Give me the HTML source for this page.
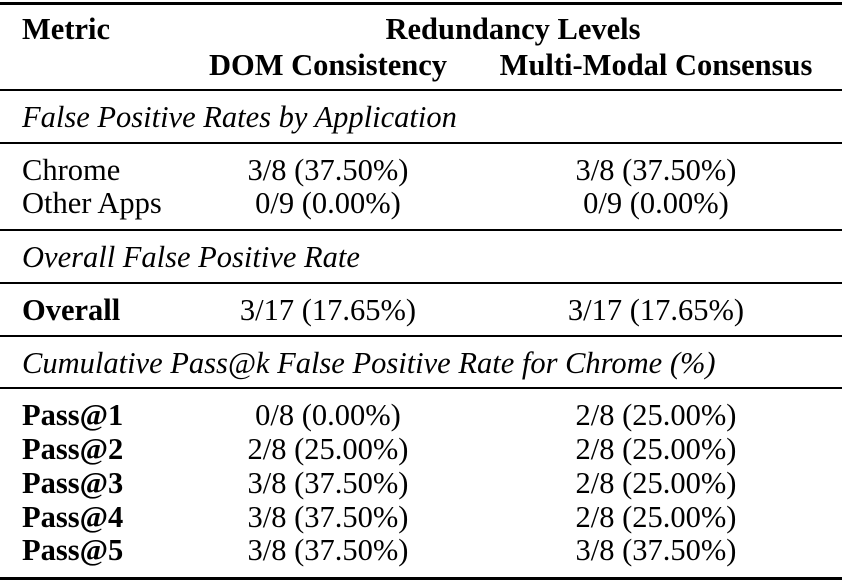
<!DOCTYPE html>
<html><head><meta charset="utf-8"><style>
body{margin:0;width:842px;height:581px;background:#fff;position:relative;overflow:hidden;font-family:"Liberation Serif",serif;font-size:30.5px;color:#000}
.t{position:absolute;line-height:31px;white-space:nowrap}
.c1{left:328px;transform:translateX(-50%)}
.c2{left:656px;transform:translateX(-50%)}
.l{left:22px}
.b{font-weight:bold}
.i{font-style:italic}
.r{position:absolute;left:0;width:842px;background:#000}
</style></head><body>
<div class="r" style="top:2px;height:3px"></div>
<div class="r" style="top:89px;height:2px"></div>
<div class="r" style="top:142px;height:2px"></div>
<div class="r" style="top:229px;height:2px"></div>
<div class="r" style="top:282px;height:2px"></div>
<div class="r" style="top:335px;height:2px"></div>
<div class="r" style="top:387px;height:2px"></div>
<div class="r" style="top:577px;height:3px"></div>

<div class="t l b" style="top:14px">Metric</div>
<div class="t b" style="top:14px;left:513px;transform:translateX(-50%)">Redundancy Levels</div>
<div class="t c1 b" style="top:50px">DOM Consistency</div>
<div class="t c2 b" style="top:50px">Multi-Modal Consensus</div>

<div class="t l i" style="top:102px">False Positive Rates by Application</div>
<div class="t l" style="top:155px">Chrome</div>
<div class="t c1" style="top:155px">3/8 (37.50%)</div>
<div class="t c2" style="top:155px">3/8 (37.50%)</div>
<div class="t l" style="top:188px">Other Apps</div>
<div class="t c1" style="top:188px">0/9 (0.00%)</div>
<div class="t c2" style="top:188px">0/9 (0.00%)</div>

<div class="t l i" style="top:242px">Overall False Positive Rate</div>
<div class="t l b" style="top:295px">Overall</div>
<div class="t c1" style="top:295px">3/17 (17.65%)</div>
<div class="t c2" style="top:295px">3/17 (17.65%)</div>

<div class="t l i" style="top:348px">Cumulative Pass@k False Positive Rate for Chrome (%)</div>
<div class="t l b" style="top:400px">Pass@1</div>
<div class="t c1" style="top:400px">0/8 (0.00%)</div>
<div class="t c2" style="top:400px">2/8 (25.00%)</div>
<div class="t l b" style="top:434px">Pass@2</div>
<div class="t c1" style="top:434px">2/8 (25.00%)</div>
<div class="t c2" style="top:434px">2/8 (25.00%)</div>
<div class="t l b" style="top:468px">Pass@3</div>
<div class="t c1" style="top:468px">3/8 (37.50%)</div>
<div class="t c2" style="top:468px">2/8 (25.00%)</div>
<div class="t l b" style="top:502px">Pass@4</div>
<div class="t c1" style="top:502px">3/8 (37.50%)</div>
<div class="t c2" style="top:502px">2/8 (25.00%)</div>
<div class="t l b" style="top:535px">Pass@5</div>
<div class="t c1" style="top:535px">3/8 (37.50%)</div>
<div class="t c2" style="top:535px">3/8 (37.50%)</div>
</body></html>
